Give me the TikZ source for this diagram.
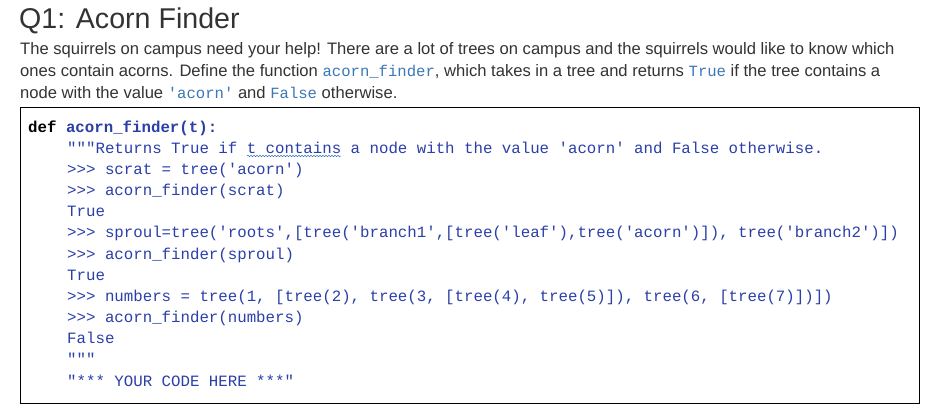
\documentclass[tikz,border=0pt]{standalone}
\usepackage{fontspec}
\setmainfont{Liberation Sans}
\setmonofont{Liberation Mono}
\usetikzlibrary{decorations.pathmorphing}
\definecolor{txt}{HTML}{333333}
\definecolor{icode}{HTML}{3B78B8}
\definecolor{code}{HTML}{2B3FA8}
\tikzset{
  para/.style={anchor=base west,inner sep=0pt,text=txt,font=\fontsize{16.6}{18}\selectfont},
  cl/.style={anchor=base west,inner sep=0pt,text=code,font=\fontsize{15.75}{18}\ttfamily},
}
\newcommand{\ic}[1]{{\fontsize{15.6}{18}\ttfamily\color{icode}#1}}
\begin{document}
\begin{tikzpicture}[x=1pt,y=-1pt]
\useasboundingbox[fill=white] (0,0) rectangle (944,417);
\node[anchor=base west,inner sep=0pt,text=txt,font=\fontsize{28.6}{32}\selectfont] (title) at (19,29) {Q1: Acorn Finder};
\node[para] (p1) at (20,55) {The squirrels on campus need your help! There are a lot of trees on campus and the squirrels would like to know which};
\node[para] (p2) at (20,77) {ones contain acorns. Define the function \ic{acorn\_finder}, which takes in a tree and returns \ic{True} if the tree contains a};
\node[para] (p3) at (20,99) {node with the value \ic{'acorn'} and \ic{False} otherwise.};
\draw[line width=1pt,black] (20,107.5) rectangle (919,403);
\node[cl] (c0) at (28,132) {\bfseries{\color{black}def} acorn\_finder(t):};
\node[cl] (c1) at (67,153.2) {"""Returns True if t contains a node with the value 'acorn' and False otherwise.};
\node[cl] (c2) at (67,174.3) {>>> scrat = tree('acorn')};
\node[cl] (c3) at (67,195.5) {>>> acorn\_finder(scrat)};
\node[cl] (c4) at (67,216.7) {True};
\node[cl] (c5) at (67,237.8) {>>> sproul=tree('roots',[tree('branch1',[tree('leaf'),tree('acorn')]), tree('branch2')])};
\node[cl] (c6) at (67,259) {>>> acorn\_finder(sproul)};
\node[cl] (c7) at (67,280.2) {True};
\node[cl] (c8) at (67,301.3) {>>> numbers = tree(1, [tree(2), tree(3, [tree(4), tree(5)]), tree(6, [tree(7)])])};
\node[cl] (c9) at (67,322.5) {>>> acorn\_finder(numbers)};
\node[cl] (c10) at (67,343.7) {False};
\node[cl] (c11) at (67,364.8) {"""};
\node[cl] (c12) at (67,386) {"*** YOUR CODE HERE ***"};
\draw[icode,line width=0.5pt,decorate,decoration={snake,amplitude=0.8pt,segment length=3pt}] (247,156) -- (341,156);
\end{tikzpicture}
\end{document}
